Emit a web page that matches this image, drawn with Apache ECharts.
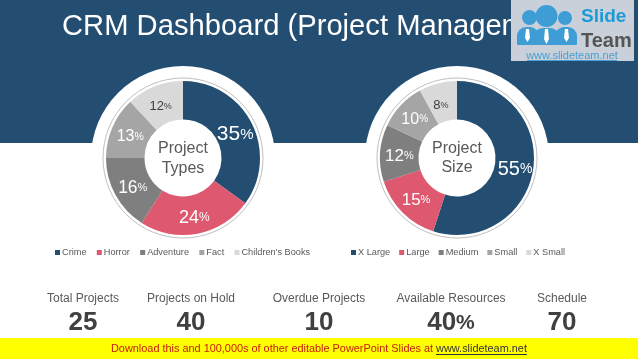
<!DOCTYPE html>
<html>
<head>
<meta charset="utf-8">
<style>
  html, body { margin: 0; padding: 0; background: #fff; }
  #main { width: 638px; height: 359px; }
</style>
<script src="https://cdn.jsdelivr.net/npm/echarts@6/dist/echarts.min.js"></script>
</head>
<body>
<div id="main"></div>
<script>
var typeNames = ['Crime', 'Horror', 'Adventure', 'Fact', "Children's Books"];
var typeValues = [35, 24, 16, 13, 12];
var sizeNames = ['X Large', 'Large', 'Medium', 'Small', 'X Small'];
var sizeValues = [55, 15, 12, 10, 8];
var statNames = ['Total Projects', 'Projects on Hold', 'Overdue Projects', 'Available Resources', 'Schedule'];
var statValues = ['25', '40', '10', '40', '70'];
var statUnits = ['', '', '', '%', ''];
var statX = [83, 191, 319, 451, 562];

var FONT = '"Liberation Sans", Arial, sans-serif';
var NAVY = '#234E72';
var colors = [NAVY, '#DE5870', '#7F7F7F', '#A5A5A5', '#D9D9D9'];
var darkLabel = '#404040';

// 标签的字号和微调位置
var typeLabelSizes = [[21, 15], [18, 12], [17.5, 11], [16, 10.5], [13, 9]];
var typeLabelShift = [[-2, 4], [0, 0], [3, 1], [3, 3], [0, 5]];
var sizeLabelSizes = [[20, 14], [17, 11], [17, 11], [16, 10], [13, 9]];
var sizeLabelShift = [[-2, 2], [2, -1], [3, 2], [2, 3], [-1, 6]];

// 饼图数据，最后一块浅灰用深色文字
function pieData(names, values, sizes, shift) {
  return names.map(function (n, i) {
    var c = i === names.length - 1 ? darkLabel : '#fff';
    return {
      name: n,
      value: values[i],
      label: { color: c, offset: shift[i], rich: {
        big: { fontSize: sizes[i][0], color: c, fontFamily: FONT },
        pct: { fontSize: sizes[i][1], color: c, fontFamily: FONT }
      } }
    };
  });
}

function donut(names, values, cx, sizes, shift) {
  return {
    type: 'pie',
    silent: true,
    center: [cx, 158],
    radius: [38.5, 77],
    startAngle: 90,
    clockwise: true,
    animation: false,
    label: {
      position: 'inside',
      formatter: function (p) { return '{big|' + p.value + '}{pct|%}'; }
    },
    labelLine: { show: false },
    data: pieData(names, values, sizes, shift)
  };
}

function legend(names, left, gap) {
  return {
    data: names,
    left: left,
    top: 243,
    itemWidth: 5,
    itemHeight: 5,
    itemGap: gap,
    icon: 'rect',
    selectedMode: false,
    textStyle: { fontSize: 9.2, color: '#595959', fontFamily: FONT, padding: [0, 0, 0, -3] }
  };
}

function text(x, y, str, size, color, opts) {
  var style = { x: x, y: y, text: str, fontSize: size, fill: color, fontFamily: FONT, align: 'center', verticalAlign: 'middle' };
  for (var k in opts) style[k] = opts[k];
  return { type: 'text', z: 5, style: style };
}

// 背景、白色圆环和标题
var graphics = [
  { type: 'rect', z: 0, shape: { x: 0, y: 0, width: 638, height: 143 }, style: { fill: NAVY } },
  { type: 'circle', z: 1, shape: { cx: 183, cy: 158, r: 92 }, style: { fill: '#fff' } },
  { type: 'circle', z: 1, shape: { cx: 457, cy: 158, r: 92 }, style: { fill: '#fff' } },
  { type: 'circle', z: 1, shape: { cx: 183, cy: 158, r: 80 }, style: { fill: '#fff', stroke: '#BFBFBF', lineWidth: 1 } },
  { type: 'circle', z: 1, shape: { cx: 457, cy: 158, r: 80 }, style: { fill: '#fff', stroke: '#BFBFBF', lineWidth: 1 } },
  text(62, 27, 'CRM Dashboard (Project Management)', 29.2, '#fff', { align: 'left' }),
  text(183, 149, 'Project', 16, '#595959'),
  text(183, 169, 'Types', 16, '#595959'),
  text(457, 149, 'Project', 16, '#595959'),
  text(457, 168, 'Size', 16, '#595959')
];

statNames.forEach(function (n, i) {
  graphics.push(text(statX[i], 299, n, 12, '#595959'));
  graphics.push({
    type: 'text', z: 5,
    style: {
      x: statX[i], y: 323, align: 'center', verticalAlign: 'middle',
      text: '{v|' + statValues[i] + '}' + (statUnits[i] ? '{u|' + statUnits[i] + '}' : ''),
      rich: {
        v: { fontSize: 26, fontWeight: 'bold', fill: darkLabel, fontFamily: FONT },
        u: { fontSize: 21, fontWeight: 'bold', fill: darkLabel, fontFamily: FONT }
      }
    }
  });
});

// 底部黄条
graphics.push(
  { type: 'rect', z: 6, shape: { x: 0, y: 338, width: 638, height: 21 }, style: { fill: '#FFFF00' } },
  { type: 'text', z: 7, style: {
    x: 111, y: 349, verticalAlign: 'middle',
    text: '{a|Download this and 100,000s of other editable PowerPoint Slides at }{b|www.slideteam.net}',
    rich: {
      a: { fontSize: 10.9, fill: '#C8200A', fontFamily: FONT },
      b: { fontSize: 10.9, fill: '#333', fontFamily: FONT }
    }
  } },
  { type: 'line', z: 7, shape: { x1: 436, y1: 354.5, x2: 527, y2: 354.5 }, style: { stroke: '#333', lineWidth: 1 } }
);

// 右上角 logo
var logoBlue = '#3F9DD6';
graphics.push(
  { type: 'rect', z: 8, shape: { x: 511, y: 0, width: 123, height: 61 }, style: { fill: '#C9D0DA' } },
  { type: 'circle', z: 9, shape: { cx: 529.5, cy: 17.5, r: 7.5 }, style: { fill: logoBlue } },
  { type: 'circle', z: 9, shape: { cx: 565, cy: 18, r: 7 }, style: { fill: logoBlue } },
  { type: 'rect', z: 9, shape: { x: 517, y: 27, width: 22, height: 18, r: [9, 9, 1, 1] }, style: { fill: logoBlue } },
  { type: 'rect', z: 9, shape: { x: 555, y: 27, width: 22, height: 18, r: [9, 9, 1, 1] }, style: { fill: logoBlue } },
  { type: 'circle', z: 10, shape: { cx: 546.5, cy: 16, r: 11 }, style: { fill: logoBlue } },
  { type: 'rect', z: 10, shape: { x: 533, y: 28, width: 27, height: 17, r: [10, 10, 1, 1] }, style: { fill: logoBlue } },
  { type: 'polygon', z: 11, shape: { points: [[545, 29], [548, 29], [549, 39], [546.5, 44], [544, 39]] }, style: { fill: '#fff' } },
  { type: 'polygon', z: 11, shape: { points: [[526, 29], [529, 29], [530, 38], [527.5, 42], [525, 38]] }, style: { fill: '#fff' } },
  { type: 'polygon', z: 11, shape: { points: [[565, 29], [568, 29], [569, 38], [566.5, 42], [564, 38]] }, style: { fill: '#fff' } },
  { type: 'text', z: 11, style: { x: 581, y: 17, text: 'Slide', fontSize: 19, fontWeight: 'bold', fill: '#1C9BD7', fontFamily: FONT, verticalAlign: 'middle' } },
  { type: 'text', z: 11, style: { x: 581, y: 41, text: 'Team', fontSize: 20, fontWeight: 'bold', fill: '#555', fontFamily: FONT, verticalAlign: 'middle' } },
  { type: 'text', z: 11, style: { x: 572, y: 56, text: 'www.slideteam.net', fontSize: 11, fill: '#4A9FD0', fontFamily: FONT, align: 'center', verticalAlign: 'middle' } },
  { type: 'line', z: 11, shape: { x1: 527, y1: 60.5, x2: 617, y2: 60.5 }, style: { stroke: '#4A9FD0', lineWidth: 1 } }
);

var chart = echarts.init(document.getElementById('main'), null, { renderer: 'canvas' });
chart.setOption({
  animation: false,
  color: colors,
  legend: [legend(typeNames, 50, 10.3), legend(sizeNames, 346, 9)],
  graphic: { elements: graphics },
  series: [
    donut(typeNames, typeValues, 183, typeLabelSizes, typeLabelShift),
    donut(sizeNames, sizeValues, 457, sizeLabelSizes, sizeLabelShift)
  ]
});
</script>
</body>
</html>
